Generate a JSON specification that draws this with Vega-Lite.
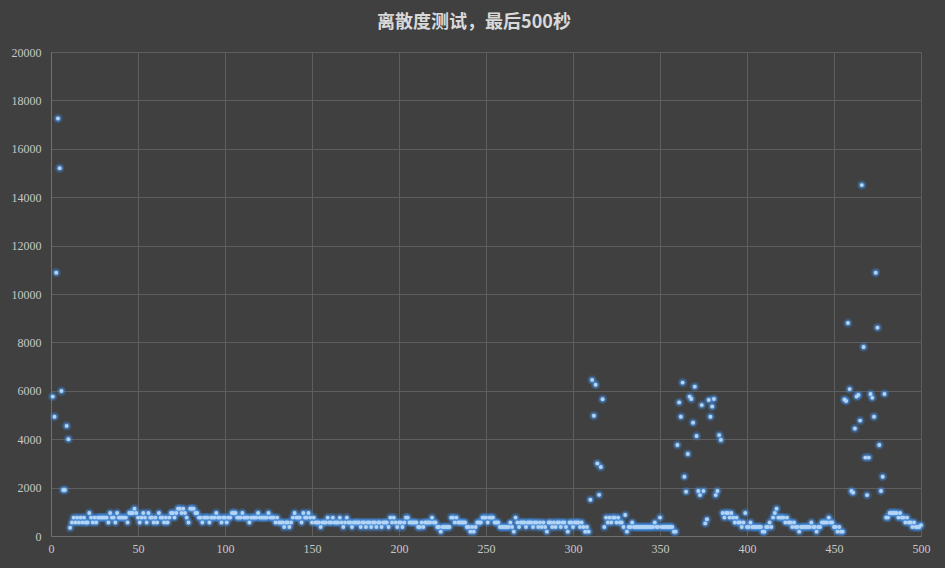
{
  "$schema": "https://vega.github.io/schema/vega-lite/v6.json",
  "width": 870,
  "height": 484,
  "autosize": {"type": "none"},
  "padding": {"left": 51, "top": 52, "right": 24, "bottom": 32},
  "background": "#404040",
  "title": {
    "text": "离散度测试，最后500秒",
    "font": "Noto Sans CJK SC",
    "fontSize": 18,
    "fontWeight": "bold",
    "color": "#d9d9d9",
    "anchor": "middle",
    "dx": -12,
    "offset": 14
  },
  "config": {
    "view": {"stroke": null},
    "axis": {
      "labelFont": "Liberation Sans Narrow",
      "labelFontSize": 12,
      "labelColor": "#c8c8c8",
      "gridColor": "#5e5e5e",
      "gridWidth": 1,
      "domainColor": "#707070",
      "ticks": false,
      "title": null
    }
  },
  "datasets": {
    "pts": [
{"t":1,"v":5760},{"t":2,"v":4930},{"t":3,"v":10880},{"t":4,"v":17250},{"t":5,"v":15200},{"t":6,"v":5990},{"t":7,"v":1900},{"t":8,"v":1900},{"t":9,"v":4550},{"t":10,"v":4000},
{"t":11,"v":340},{"t":12,"v":560},{"t":13,"v":760},{"t":14,"v":560},{"t":15,"v":760},{"t":16,"v":560},{"t":17,"v":760},{"t":18,"v":560},{"t":19,"v":760},{"t":20,"v":560},
{"t":21,"v":560},{"t":22,"v":950},{"t":23,"v":760},{"t":24,"v":560},{"t":25,"v":760},{"t":26,"v":560},{"t":27,"v":760},{"t":28,"v":760},{"t":29,"v":760},{"t":30,"v":760},
{"t":31,"v":760},{"t":32,"v":760},{"t":33,"v":560},{"t":34,"v":950},{"t":35,"v":760},{"t":36,"v":760},{"t":37,"v":560},{"t":38,"v":950},{"t":39,"v":760},{"t":40,"v":760},
{"t":41,"v":760},{"t":42,"v":760},{"t":43,"v":760},{"t":44,"v":560},{"t":45,"v":950},{"t":46,"v":950},{"t":47,"v":950},{"t":48,"v":1130},{"t":49,"v":950},{"t":50,"v":760},
{"t":51,"v":560},{"t":52,"v":760},{"t":53,"v":950},{"t":54,"v":760},{"t":55,"v":560},{"t":56,"v":950},{"t":57,"v":760},{"t":58,"v":760},{"t":59,"v":560},{"t":60,"v":760},
{"t":61,"v":560},{"t":62,"v":950},{"t":63,"v":760},{"t":64,"v":760},{"t":65,"v":560},{"t":66,"v":760},{"t":67,"v":560},{"t":68,"v":760},{"t":69,"v":950},{"t":70,"v":950},
{"t":71,"v":760},{"t":72,"v":950},{"t":73,"v":1130},{"t":74,"v":1130},{"t":75,"v":950},{"t":76,"v":1130},{"t":77,"v":950},{"t":78,"v":760},{"t":79,"v":560},{"t":80,"v":1130},
{"t":81,"v":1130},{"t":82,"v":1130},{"t":83,"v":950},{"t":84,"v":950},{"t":85,"v":760},{"t":86,"v":760},{"t":87,"v":560},{"t":88,"v":760},{"t":89,"v":760},{"t":90,"v":760},
{"t":91,"v":560},{"t":92,"v":760},{"t":93,"v":760},{"t":94,"v":760},{"t":95,"v":950},{"t":96,"v":760},{"t":97,"v":760},{"t":98,"v":560},{"t":99,"v":760},{"t":100,"v":760},
{"t":101,"v":560},{"t":102,"v":760},{"t":103,"v":760},{"t":104,"v":950},{"t":105,"v":950},{"t":106,"v":950},{"t":107,"v":760},{"t":108,"v":760},{"t":109,"v":760},{"t":110,"v":950},
{"t":111,"v":760},{"t":112,"v":760},{"t":113,"v":760},{"t":114,"v":560},{"t":115,"v":760},{"t":116,"v":760},{"t":117,"v":760},{"t":118,"v":760},{"t":119,"v":950},{"t":120,"v":760},
{"t":121,"v":760},{"t":122,"v":760},{"t":123,"v":760},{"t":124,"v":760},{"t":125,"v":950},{"t":126,"v":760},{"t":127,"v":760},{"t":128,"v":760},{"t":129,"v":560},{"t":130,"v":760},
{"t":131,"v":560},{"t":132,"v":560},{"t":133,"v":560},{"t":134,"v":370},{"t":135,"v":560},{"t":136,"v":560},{"t":137,"v":370},{"t":138,"v":560},{"t":139,"v":760},{"t":140,"v":950},
{"t":141,"v":760},{"t":142,"v":760},{"t":143,"v":760},{"t":144,"v":560},{"t":145,"v":950},{"t":146,"v":760},{"t":147,"v":760},{"t":148,"v":950},{"t":149,"v":760},{"t":150,"v":560},
{"t":151,"v":760},{"t":152,"v":560},{"t":153,"v":560},{"t":154,"v":560},{"t":155,"v":370},{"t":156,"v":560},{"t":157,"v":560},{"t":158,"v":560},{"t":159,"v":760},{"t":160,"v":560},
{"t":161,"v":560},{"t":162,"v":760},{"t":163,"v":560},{"t":164,"v":560},{"t":165,"v":560},{"t":166,"v":760},{"t":167,"v":560},{"t":168,"v":370},{"t":169,"v":560},{"t":170,"v":760},
{"t":171,"v":560},{"t":172,"v":560},{"t":173,"v":370},{"t":174,"v":560},{"t":175,"v":560},{"t":176,"v":560},{"t":177,"v":560},{"t":178,"v":370},{"t":179,"v":560},{"t":180,"v":560},
{"t":181,"v":370},{"t":182,"v":560},{"t":183,"v":560},{"t":184,"v":370},{"t":185,"v":560},{"t":186,"v":560},{"t":187,"v":370},{"t":188,"v":560},{"t":189,"v":560},{"t":190,"v":370},
{"t":191,"v":560},{"t":192,"v":560},{"t":193,"v":560},{"t":194,"v":370},{"t":195,"v":760},{"t":196,"v":560},{"t":197,"v":760},{"t":198,"v":560},{"t":199,"v":370},{"t":200,"v":560},
{"t":201,"v":560},{"t":202,"v":370},{"t":203,"v":560},{"t":204,"v":760},{"t":205,"v":760},{"t":206,"v":560},{"t":207,"v":560},{"t":208,"v":560},{"t":209,"v":560},{"t":210,"v":560},
{"t":211,"v":370},{"t":212,"v":370},{"t":213,"v":560},{"t":214,"v":370},{"t":215,"v":560},{"t":216,"v":560},{"t":217,"v":560},{"t":218,"v":560},{"t":219,"v":760},{"t":220,"v":560},
{"t":221,"v":560},{"t":222,"v":370},{"t":223,"v":370},{"t":224,"v":180},{"t":225,"v":370},{"t":226,"v":370},{"t":227,"v":370},{"t":228,"v":370},{"t":229,"v":370},{"t":230,"v":760},
{"t":231,"v":760},{"t":232,"v":560},{"t":233,"v":760},{"t":234,"v":560},{"t":235,"v":560},{"t":236,"v":560},{"t":237,"v":560},{"t":238,"v":560},{"t":239,"v":370},{"t":240,"v":370},
{"t":241,"v":180},{"t":242,"v":370},{"t":243,"v":180},{"t":244,"v":370},{"t":245,"v":560},{"t":246,"v":560},{"t":247,"v":560},{"t":248,"v":760},{"t":249,"v":760},{"t":250,"v":760},
{"t":251,"v":560},{"t":252,"v":760},{"t":253,"v":760},{"t":254,"v":760},{"t":255,"v":560},{"t":256,"v":560},{"t":257,"v":560},{"t":258,"v":370},{"t":259,"v":370},{"t":260,"v":370},
{"t":261,"v":370},{"t":262,"v":370},{"t":263,"v":370},{"t":264,"v":560},{"t":265,"v":370},{"t":266,"v":180},{"t":267,"v":760},{"t":268,"v":560},{"t":269,"v":370},{"t":270,"v":560},
{"t":271,"v":560},{"t":272,"v":560},{"t":273,"v":370},{"t":274,"v":560},{"t":275,"v":560},{"t":276,"v":560},{"t":277,"v":370},{"t":278,"v":560},{"t":279,"v":560},{"t":280,"v":370},
{"t":281,"v":560},{"t":282,"v":370},{"t":283,"v":560},{"t":284,"v":370},{"t":285,"v":180},{"t":286,"v":560},{"t":287,"v":560},{"t":288,"v":370},{"t":289,"v":560},{"t":290,"v":370},
{"t":291,"v":560},{"t":292,"v":560},{"t":293,"v":370},{"t":294,"v":560},{"t":295,"v":560},{"t":296,"v":370},{"t":297,"v":180},{"t":298,"v":560},{"t":299,"v":560},{"t":300,"v":370},
{"t":301,"v":560},{"t":302,"v":560},{"t":303,"v":560},{"t":304,"v":370},{"t":305,"v":560},{"t":306,"v":370},{"t":307,"v":180},{"t":308,"v":370},{"t":309,"v":180},{"t":310,"v":1500},
{"t":311,"v":6450},{"t":312,"v":4970},{"t":313,"v":6250},{"t":314,"v":3000},{"t":315,"v":1700},{"t":316,"v":2850},{"t":317,"v":5650},{"t":318,"v":370},{"t":319,"v":760},{"t":320,"v":560},
{"t":321,"v":760},{"t":322,"v":560},{"t":323,"v":760},{"t":324,"v":760},{"t":325,"v":560},{"t":326,"v":760},{"t":327,"v":560},{"t":328,"v":560},{"t":329,"v":370},{"t":330,"v":870},
{"t":331,"v":180},{"t":332,"v":370},{"t":333,"v":370},{"t":334,"v":560},{"t":335,"v":370},{"t":336,"v":370},{"t":337,"v":370},{"t":338,"v":370},{"t":339,"v":370},{"t":340,"v":370},
{"t":341,"v":370},{"t":342,"v":370},{"t":343,"v":370},{"t":344,"v":370},{"t":345,"v":370},{"t":346,"v":370},{"t":347,"v":560},{"t":348,"v":370},{"t":349,"v":370},{"t":350,"v":760},
{"t":351,"v":370},{"t":352,"v":370},{"t":353,"v":370},{"t":354,"v":370},{"t":355,"v":370},{"t":356,"v":370},{"t":357,"v":370},{"t":358,"v":180},{"t":359,"v":180},{"t":360,"v":3760},
{"t":361,"v":5520},{"t":362,"v":4930},{"t":363,"v":6340},{"t":364,"v":2450},{"t":365,"v":1830},{"t":366,"v":3390},{"t":367,"v":5760},{"t":368,"v":5660},{"t":369,"v":4680},{"t":370,"v":6170},
{"t":371,"v":4130},{"t":372,"v":1860},{"t":373,"v":1690},{"t":374,"v":5410},{"t":375,"v":1860},{"t":376,"v":520},{"t":377,"v":690},{"t":378,"v":5620},{"t":379,"v":4930},{"t":380,"v":5350},
{"t":381,"v":5660},{"t":382,"v":1690},{"t":383,"v":1860},{"t":384,"v":4170},{"t":385,"v":3970},{"t":386,"v":950},{"t":387,"v":760},{"t":388,"v":950},{"t":389,"v":950},{"t":390,"v":760},
{"t":391,"v":950},{"t":392,"v":760},{"t":393,"v":560},{"t":394,"v":760},{"t":395,"v":560},{"t":396,"v":560},{"t":397,"v":370},{"t":398,"v":560},{"t":399,"v":950},{"t":400,"v":370},
{"t":401,"v":370},{"t":402,"v":560},{"t":403,"v":370},{"t":404,"v":370},{"t":405,"v":370},{"t":406,"v":370},{"t":407,"v":370},{"t":408,"v":370},{"t":409,"v":180},{"t":410,"v":180},
{"t":411,"v":370},{"t":412,"v":370},{"t":413,"v":560},{"t":414,"v":370},{"t":415,"v":760},{"t":416,"v":950},{"t":417,"v":1130},{"t":418,"v":760},{"t":419,"v":760},{"t":420,"v":760},
{"t":421,"v":760},{"t":422,"v":560},{"t":423,"v":760},{"t":424,"v":560},{"t":425,"v":560},{"t":426,"v":370},{"t":427,"v":560},{"t":428,"v":370},{"t":429,"v":370},{"t":430,"v":180},
{"t":431,"v":370},{"t":432,"v":370},{"t":433,"v":370},{"t":434,"v":370},{"t":435,"v":370},{"t":436,"v":370},{"t":437,"v":560},{"t":438,"v":370},{"t":439,"v":370},{"t":440,"v":180},
{"t":441,"v":370},{"t":442,"v":370},{"t":443,"v":560},{"t":444,"v":560},{"t":445,"v":560},{"t":446,"v":560},{"t":447,"v":760},{"t":448,"v":560},{"t":449,"v":560},{"t":450,"v":370},
{"t":451,"v":370},{"t":452,"v":180},{"t":453,"v":370},{"t":454,"v":180},{"t":455,"v":180},{"t":456,"v":5640},{"t":457,"v":5580},{"t":458,"v":8800},{"t":459,"v":6070},{"t":460,"v":1860},
{"t":461,"v":1790},{"t":462,"v":4440},{"t":463,"v":5760},{"t":464,"v":5830},{"t":465,"v":4770},{"t":466,"v":14500},{"t":467,"v":7810},{"t":468,"v":3240},{"t":469,"v":1690},{"t":470,"v":3240},
{"t":471,"v":5870},{"t":472,"v":5710},{"t":473,"v":4930},{"t":474,"v":10880},{"t":475,"v":8610},{"t":476,"v":3760},{"t":477,"v":1860},{"t":478,"v":2450},{"t":479,"v":5870},{"t":480,"v":760},
{"t":481,"v":760},{"t":482,"v":950},{"t":483,"v":950},{"t":484,"v":950},{"t":485,"v":950},{"t":486,"v":950},{"t":487,"v":760},{"t":488,"v":950},{"t":489,"v":760},{"t":490,"v":760},
{"t":491,"v":560},{"t":492,"v":760},{"t":493,"v":560},{"t":494,"v":560},{"t":495,"v":370},{"t":496,"v":560},{"t":497,"v":370},{"t":498,"v":370},{"t":499,"v":370},{"t":500,"v":450}
    ]
  },
  "data": {"name": "pts"},
  "encoding": {
    "x": {
      "field": "t",
      "type": "quantitative",
      "scale": {"domain": [0, 500], "nice": false, "zero": false},
      "axis": {"values": [0, 50, 100, 150, 200, 250, 300, 350, 400, 450, 500], "labelPadding": 7, "labelFlush": false}
    },
    "y": {
      "field": "v",
      "type": "quantitative",
      "scale": {"domain": [0, 20000], "nice": false},
      "axis": {"values": [0, 2000, 4000, 6000, 8000, 10000, 12000, 14000, 16000, 18000, 20000], "labelPadding": 10, "format": "d"}
    }
  },
  "layer": [
    {
      "mark": {"type": "circle", "size": 90, "color": "#3d86d8", "opacity": 0.3}
    },
    {
      "mark": {"type": "circle", "size": 40, "color": "#4f96e6", "opacity": 0.5}
    },
    {
      "mark": {"type": "circle", "size": 15, "color": "#b4d4f4", "opacity": 1}
    }
  ]
}
